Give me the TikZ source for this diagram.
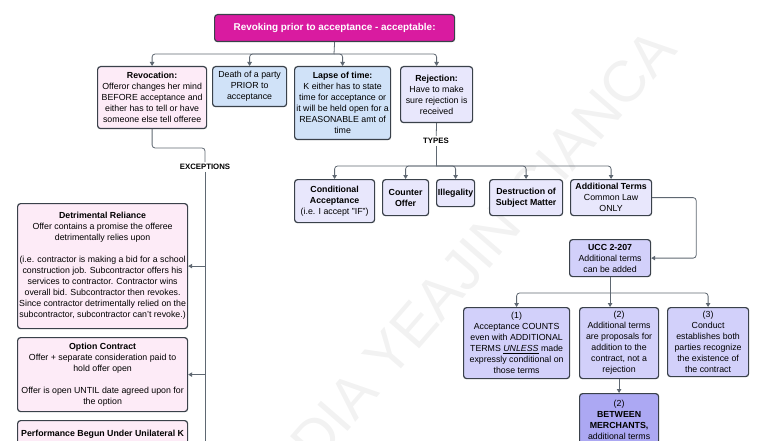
\documentclass[tikz,border=0pt]{standalone}
\usepackage{fontspec}
\setmainfont{Liberation Sans}
\usetikzlibrary{positioning, arrows.meta, calc}
\definecolor{titlemag}{RGB}{217, 27, 160}
\definecolor{pinkbox}{RGB}{253, 235, 247}
\definecolor{bluebox}{RGB}{208, 226, 248}
\definecolor{lavbox}{RGB}{232, 231, 252}
\definecolor{uccbox}{RGB}{210, 208, 250}
\definecolor{merchbox}{RGB}{172, 168, 243}
\definecolor{boxline}{RGB}{58, 65, 74}
\definecolor{connline}{RGB}{95, 104, 114}

\begin{document}
\begin{tikzpicture}[
    x=1pt, y=-1pt,
    box/.style={draw=boxline, line width=1.2pt, rounded corners=3pt, align=center, anchor=north west,
      inner sep=1pt, font=\fontsize{8.8}{11}\selectfont},
    conn/.style={draw=connline, line width=0.8pt, rounded corners=3pt},
    arrow/.style={conn, -{Triangle[length=4pt, width=4.5pt]}},
    tag/.style={inner sep=2pt, font=\bfseries\fontsize{7.8}{9}\selectfont},
  ]
  \useasboundingbox (0,0) rectangle (784,441);
  \clip (0,0) rectangle (784,441);
  % watermark
  \node[rotate=49, text=black!5, font=\fontsize{58}{58}\selectfont] (mark) at (432,304) {CLAUDIA YEAJIN CIANCA};
  % top row
  \node[box, fill=titlemag, text=white, minimum width=240pt, minimum height=27pt,
    font=\bfseries\fontsize{9.9}{12}\selectfont] (title) at (214,14) {Revoking prior to acceptance - acceptable:};
  \node[box, fill=pinkbox, minimum width=109pt, minimum height=62pt] (revoc) at (97,66)
    {\textbf{Revocation:}\\Offeror changes her mind\\BEFORE acceptance and\\either has to tell or have\\someone else tell offeree};
  \node[box, fill=bluebox, minimum width=74pt, minimum height=40pt] (death) at (212,66)
    {Death of a party\\PRIOR to\\acceptance};
  \node[box, fill=bluebox, minimum width=96pt, minimum height=73pt] (lapse) at (294,66)
    {\textbf{Lapse of time:}\\K either has to state\\time for acceptance or\\it will be held open for a\\REASONABLE amt of\\time};
  \node[box, fill=lavbox, minimum width=72pt, minimum height=56pt] (reject) at (400,66)
    {\textbf{Rejection:}\\Have to make\\sure rejection is\\received};
  % types of rejection
  \node[box, fill=lavbox, minimum width=80pt, minimum height=43pt] (cond) at (294,179)
    {\textbf{Conditional}\\\textbf{Acceptance}\\(i.e. I accept "IF")};
  \node[box, fill=lavbox, minimum width=46pt, minimum height=36pt] (counter) at (382,179)
    {\textbf{Counter}\\\textbf{Offer}};
  \node[box, fill=lavbox, minimum width=38pt, minimum height=27pt] (illeg) at (436,179)
    {\textbf{Illegality}};
  \node[box, fill=lavbox, minimum width=73pt, minimum height=36pt] (destr) at (489,179)
    {\textbf{Destruction of}\\\textbf{Subject Matter}};
  \node[box, fill=lavbox, minimum width=81pt, minimum height=36pt] (addl) at (570,179)
    {\textbf{Additional Terms}\\Common Law\\ONLY};
  % UCC branch
  \node[box, fill=uccbox, minimum width=81pt, minimum height=37pt] (ucc) at (569,239)
    {\textbf{UCC 2-207}\\Additional terms\\can be added};
  \node[box, fill=uccbox, minimum width=106pt, minimum height=71pt] (one) at (463,307)
    {(1)\\Acceptance COUNTS\\even with ADDITIONAL\\TERMS \underline{\textit{UNLESS}} made\\expressly conditional on\\those terms};
  \node[box, fill=uccbox, minimum width=79pt, minimum height=71pt] (two) at (579,307)
    {(2)\\Additional terms\\are proposals for\\addition to the\\contract, not a\\rejection};
  \node[box, fill=uccbox, minimum width=81pt, minimum height=69pt] (three) at (667,307)
    {(3)\\Conduct\\establishes both\\parties recognize\\the existence of\\the contract};
  \node[box, fill=merchbox, minimum width=79pt, minimum height=52pt] (merch) at (579,393)
    {(2)\\\textbf{BETWEEN}\\\textbf{MERCHANTS,}\\additional terms};
  % exceptions
  \node[box, fill=pinkbox, minimum width=170pt, minimum height=125pt] (detr) at (17,203)
    {\textbf{Detrimental Reliance}\\Offer contains a promise the offeree\\detrimentally relies upon\\[11pt](i.e. contractor is making a bid for a school\\construction job. Subcontractor offers his\\services to contractor. Contractor wins\\overall bid. Subcontractor then revokes.\\Since contractor detrimentally relied on the\\subcontractor, subcontractor can't revoke.)};
  \node[box, fill=pinkbox, minimum width=170pt, minimum height=74pt] (option) at (17,337)
    {\textbf{Option Contract}\\Offer + separate consideration paid to\\hold offer open\\[11pt]Offer is open UNTIL date agreed upon for\\the option};
  \node[box, fill=pinkbox, minimum width=170pt, minimum height=28pt] (perf) at (17,420)
    {\textbf{Performance Begun Under Unilateral K}};
  % labels
  \node[tag] (exlabel) at (205,167) {EXCEPTIONS};
  \node[tag] (tylabel) at (436,141) {TYPES};
  % Arrows
  \coordinate (tbus) at (334,54);
  \draw[conn] (title.south) -- (tbus);
  \foreach \b in {revoc, death, lapse, reject}
    \draw[arrow] (tbus) -| (\b.north);
  \coordinate (exc) at (205,148);
  \coordinate (exend) at (205,470);
  \draw[conn] (revoc.south) |- (exc) -- (exlabel);
  \draw[conn] (exlabel) -- (exend);
  \foreach \b in {detr, option}
    \draw[arrow] (exc |- \b.east) -- (\b.east);
  \coordinate (tybus) at (436,166);
  \draw[conn] (reject.south) -- (tylabel);
  \draw[conn] (tylabel) -- (tybus);
  \foreach \t in {cond, counter, illeg, destr, addl}
    \draw[arrow] (tybus) -| (\t.north);
  \draw[arrow] (addl.east) -- ++(44,0) |- (ucc.east);
  \coordinate (ubus) at (610,293);
  \draw[arrow] (ucc.south) -- (ucc.south |- two.north);
  \draw[arrow] (ucc.south |- ubus) -| (one.north);
  \draw[arrow] (ucc.south |- ubus) -| (three.north);
  \draw[arrow] (two.south) -- (merch.north);
\end{tikzpicture}
\end{document}
